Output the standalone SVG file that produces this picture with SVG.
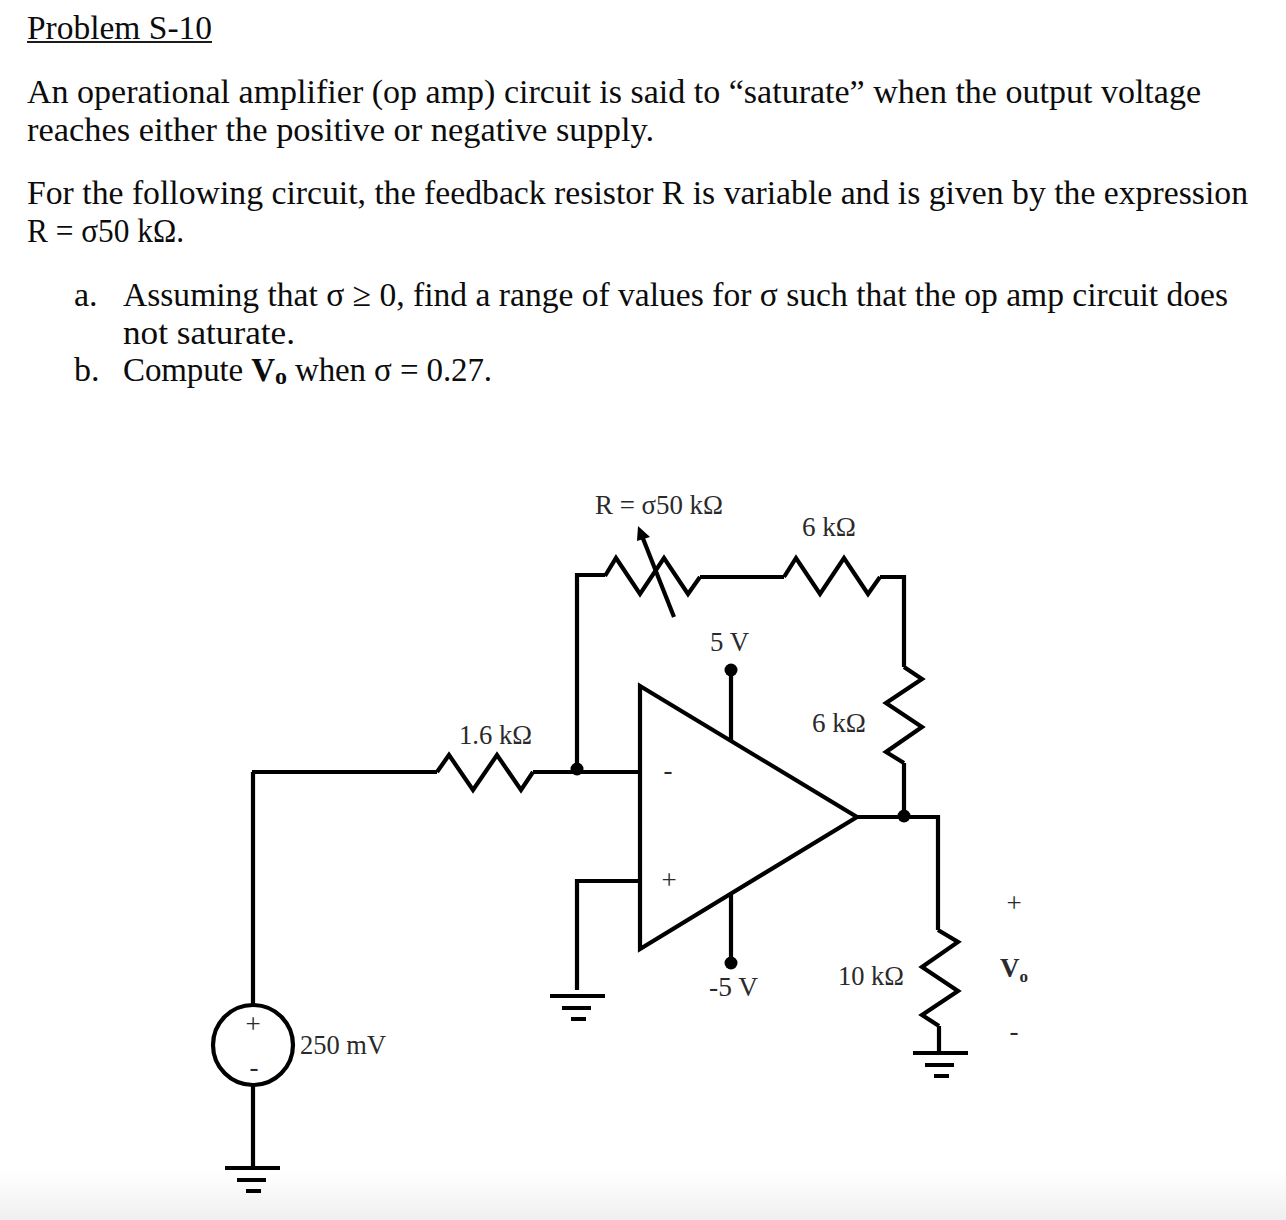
<svg xmlns="http://www.w3.org/2000/svg" width="1286" height="1220" viewBox="0 0 1286 1220">
<style>
.t{font-family:"Liberation Serif","DejaVu Serif",serif;font-size:34px;fill:#0c0c0c}
.l{font-family:"Liberation Serif","DejaVu Serif",serif;font-size:27px;fill:#2a2a2a}
.w{fill:none;stroke:#000;stroke-width:4.2;stroke-linejoin:miter;stroke-linecap:butt}
.g{fill:none;stroke:#000;stroke-width:3.8}
.d{fill:#000}
</style>
<defs>
<linearGradient id="bg" x1="0" y1="0" x2="0" y2="1"><stop offset="0" stop-color="#fff"/><stop offset="1" stop-color="#efefef"/></linearGradient>
<g id="gnd"><path class="g" d="M-28 0H27M-16 12H13M-7 23H8"/></g>
</defs>
<rect width="1286" height="1220" fill="#fff"/>
<rect y="1170" width="1286" height="50" fill="url(#bg)"/>
<g id="text">
<text class="t" x="27" y="39" textLength="185" lengthAdjust="spacingAndGlyphs">Problem S-10</text>
<rect x="27" y="41" width="185" height="2" fill="#1c1c1c"/>
<text class="t" x="27" y="103" textLength="1174" lengthAdjust="spacingAndGlyphs">An operational amplifier (op amp) circuit is said to “saturate” when the output voltage</text>
<text class="t" x="27" y="141" textLength="627" lengthAdjust="spacingAndGlyphs">reaches either the positive or negative supply.</text>
<text class="t" x="27" y="204" textLength="1221" lengthAdjust="spacingAndGlyphs">For the following circuit, the feedback resistor R is variable and is given by the expression</text>
<text class="t" x="27" y="242" textLength="157" lengthAdjust="spacingAndGlyphs">R = σ50 kΩ.</text>
<text class="t" x="74" y="306">a.</text>
<text class="t" x="123" y="306" textLength="1105" lengthAdjust="spacingAndGlyphs">Assuming that σ ≥ 0, find a range of values for σ such that the op amp circuit does</text>
<text class="t" x="123" y="344" textLength="172" lengthAdjust="spacingAndGlyphs">not saturate.</text>
<text class="t" x="74" y="381">b.</text>
<text class="t" x="123" y="381" font-size="33" style="font-size:33px" textLength="369" lengthAdjust="spacing">Compute <tspan font-weight="bold">V</tspan><tspan font-weight="bold" style="font-size:24px" dy="3">o</tspan><tspan dy="-3"> when σ = 0.27.</tspan></text>
</g>
<g id="connectors">
<path class="w" d="M252 772H437M533 772H640"/>
<path class="w" d="M253 772V1006M253 1086V1168"/>
<path class="w" d="M577 769V575H605M700 577H784M880 577H904V667M904 763V817"/>
<path class="w" d="M857 817H938V930M939 1026V1053"/>
<path class="w" d="M640 881H577V990"/>
<path class="w" d="M731 670V740M731 895V963"/>
</g>
<g id="opamp">
<path class="w" d="M640 686L857 817L640 949Z"/>
<text class="l" x="668" y="779" text-anchor="middle">-</text>
<text class="l" x="669" y="889" text-anchor="middle">+</text>
</g>
<g id="r-input"><path class="w" d="M437 772L449 755L473 790L497 755L521 790L533 772"/><text class="l" x="459" y="744" textLength="73" lengthAdjust="spacingAndGlyphs">1.6 kΩ</text></g>
<g id="r-var"><path class="w" d="M605 576L616 558L640 594L664 558L688 594L700 577"/><path class="w" d="M674 617L642 536"/><path class="d" d="M638 526L650 537L637 541Z"/><text class="l" x="595" y="514" textLength="128" lengthAdjust="spacingAndGlyphs">R = σ50 kΩ</text></g>
<g id="r-6a"><path class="w" d="M784 577L796 558L820 594L844 558L868 594L880 577"/><text class="l" x="802" y="536" textLength="54" lengthAdjust="spacingAndGlyphs">6 kΩ</text></g>
<g id="r-6b"><path class="w" d="M904 667L922 679L886 703L922 727L886 752L904 763"/><text class="l" x="812" y="732" textLength="54" lengthAdjust="spacingAndGlyphs">6 kΩ</text></g>
<g id="r-10"><path class="w" d="M938 930L958 942L922 967L958 991L922 1015L939 1026"/><text class="l" x="838" y="985" textLength="66" lengthAdjust="spacingAndGlyphs">10 kΩ</text></g>
<g id="source"><circle class="w" cx="253" cy="1045" r="40"/><text class="l" x="253" y="1033" text-anchor="middle">+</text><text class="l" x="254" y="1076" text-anchor="middle">-</text><text class="l" x="300" y="1054" textLength="86" lengthAdjust="spacingAndGlyphs">250 mV</text></g>
<g id="supply-pos"><circle class="d" cx="731" cy="670" r="6.5"/><text class="l" x="710" y="651" textLength="39" lengthAdjust="spacingAndGlyphs">5 V</text></g>
<g id="supply-neg"><circle class="d" cx="731" cy="963" r="6.5"/><text class="l" x="709" y="996" textLength="49" lengthAdjust="spacingAndGlyphs">-5 V</text></g>
<g id="junctions"><circle class="d" cx="577" cy="769" r="6.5"/><circle class="d" cx="904" cy="816" r="6.5"/></g>
<g id="grounds"><use href="#gnd" x="253" y="1168"/><use href="#gnd" x="578" y="996"/><use href="#gnd" x="941" y="1053"/></g>
<g id="vo"><text class="l" x="1014" y="912" text-anchor="middle">+</text><text class="l" x="1000" y="977" font-weight="bold">V<tspan font-size="17" dy="5">o</tspan></text><text class="l" x="1014" y="1040" text-anchor="middle">-</text></g>
</svg>
